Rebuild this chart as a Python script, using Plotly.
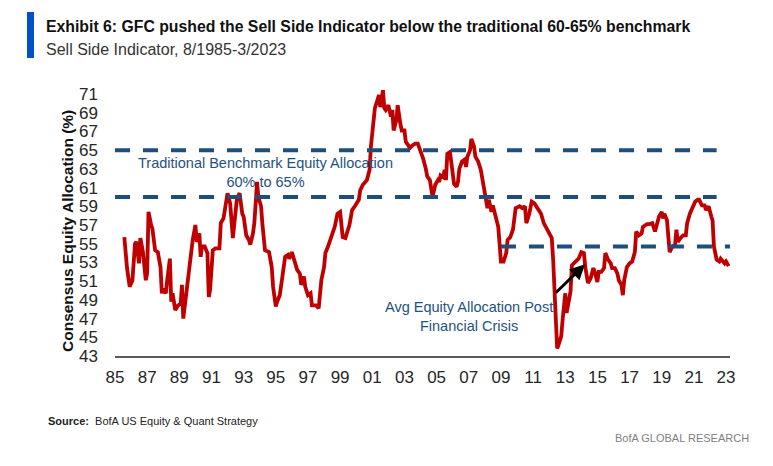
import plotly.graph_objects as go

# Sell Side Indicator, monthly readings (8/1985 - 3/2023)
dates = [
    "1985-08", "1985-10", "1985-12", "1986-02", "1986-04", "1986-05", "1986-07", "1986-08", "1986-10", "1986-12",
    "1987-01", "1987-02", "1987-04", "1987-05", "1987-07", "1987-09", "1987-11", "1987-12", "1988-01", "1988-03",
    "1988-04", "1988-06", "1988-07", "1988-08", "1988-10", "1988-12", "1989-02", "1989-03", "1989-04", "1989-06",
    "1989-08", "1989-11", "1990-01", "1990-02", "1990-04", "1990-05", "1990-06", "1990-08", "1990-10", "1990-11",
    "1990-12", "1991-02", "1991-04", "1991-07", "1991-08", "1991-10", "1992-01", "1992-03", "1992-05", "1992-07",
    "1992-08", "1992-10", "1992-12", "1993-01", "1993-03", "1993-05", "1993-06", "1993-08", "1993-09", "1993-10",
    "1993-11", "1993-12", "1994-02", "1994-03", "1994-05", "1994-08", "1994-10", "1994-11", "1995-01", "1995-02",
    "1995-04", "1995-06", "1995-08", "1995-10", "1995-11", "1996-01", "1996-03", "1996-05", "1996-07", "1996-08",
    "1996-10", "1996-11", "1997-01", "1997-03", "1997-04", "1997-07", "1997-09", "1997-11", "1998-01", "1998-02",
    "1998-04", "1998-06", "1998-07", "1998-09", "1998-11", "1999-01", "1999-03", "1999-05", "1999-08", "1999-10",
    "1999-12", "2000-03", "2000-04", "2000-06", "2000-09", "2000-11", "2000-12", "2001-02", "2001-03", "2001-05",
    "2001-06", "2001-07", "2001-09", "2001-10", "2001-11", "2002-01", "2002-03", "2002-04", "2002-05", "2002-07",
    "2002-08", "2002-10", "2002-11", "2003-01", "2003-02", "2003-04", "2003-05", "2003-07", "2003-09", "2003-11",
    "2004-01", "2004-03", "2004-05", "2004-06", "2004-08", "2004-09", "2004-10", "2004-12", "2005-02", "2005-03",
    "2005-04", "2005-06", "2005-07", "2005-08", "2005-09", "2005-11", "2005-12", "2006-02", "2006-04", "2006-05",
    "2006-06", "2006-08", "2006-10", "2006-11", "2006-12", "2007-02", "2007-03", "2007-05", "2007-06", "2007-08",
    "2007-10", "2007-12", "2008-02", "2008-03", "2008-04", "2008-06", "2008-07", "2008-09", "2008-11", "2008-12",
    "2009-01", "2009-03", "2009-05", "2009-06", "2009-08", "2009-10", "2009-12", "2010-03", "2010-05", "2010-07",
    "2010-08", "2010-10", "2010-12", "2011-02", "2011-04", "2011-05", "2011-07", "2011-09", "2011-11", "2012-01",
    "2012-03", "2012-04", "2012-05", "2012-06", "2012-07", "2012-08", "2012-10", "2012-11", "2012-12", "2013-01",
    "2013-02", "2013-04", "2013-05", "2013-06", "2013-09", "2013-11", "2014-01", "2014-03", "2014-04", "2014-06",
    "2014-08", "2014-10", "2014-11", "2015-01", "2015-02", "2015-04", "2015-06", "2015-07", "2015-09", "2015-11",
    "2015-12", "2016-02", "2016-04", "2016-05", "2016-07", "2016-08", "2016-09", "2016-11", "2017-01", "2017-03",
    "2017-05", "2017-06", "2017-08", "2017-10", "2017-11", "2018-02", "2018-04", "2018-06", "2018-08", "2018-10",
    "2018-11", "2019-01", "2019-02", "2019-03", "2019-05", "2019-06", "2019-07", "2019-09", "2019-11", "2019-12",
    "2020-01", "2020-03", "2020-05", "2020-07", "2020-08", "2020-10", "2020-12", "2021-02", "2021-04", "2021-05",
    "2021-07", "2021-09", "2021-10", "2021-12", "2022-02", "2022-03", "2022-04", "2022-06", "2022-08", "2022-09",
    "2022-12", "2023-01", "2023-03",
]
allocation = [
    55.7, 52.4, 50.4, 51.1, 55.0, 55.2, 52.9, 55.6, 54.0, 51.1,
    51.8, 58.4, 57.0, 56.6, 54.3, 54.1, 52.5, 49.7, 50.2, 49.7,
    51.1, 53.4, 48.8, 49.7, 47.9, 48.4, 48.6, 50.6, 47.0, 49.3,
    52.2, 55.4, 57.0, 55.2, 56.1, 53.6, 54.7, 54.7, 54.0, 49.3,
    50.1, 54.3, 54.5, 54.5, 57.2, 57.7, 60.4, 59.3, 55.6, 59.0,
    59.8, 60.4, 58.2, 57.9, 55.9, 55.4, 54.9, 56.1, 57.2, 59.3,
    61.6, 60.0, 59.0, 57.2, 54.3, 54.1, 52.5, 50.4, 48.3, 48.8,
    49.5, 51.5, 53.6, 53.8, 53.4, 54.1, 53.3, 52.2, 51.8, 50.6,
    51.5, 50.4, 49.5, 49.7, 48.4, 48.4, 48.1, 51.1, 52.5, 54.0,
    54.7, 55.6, 55.9, 56.8, 58.2, 58.4, 55.7, 55.6, 57.0, 58.6,
    59.0, 59.7, 60.7, 61.3, 61.8, 62.9, 65.4, 67.8, 69.5, 70.4,
    70.9, 69.6, 71.4, 69.5, 69.3, 69.8, 68.6, 69.3, 67.1, 68.2,
    69.8, 67.8, 67.1, 67.1, 65.9, 65.5, 65.2, 65.5, 65.7, 65.7,
    65.0, 64.1, 63.0, 62.2, 61.8, 60.7, 60.0, 61.3, 61.8, 61.6,
    62.3, 62.1, 62.9, 61.8, 64.6, 64.8, 63.6, 61.4, 61.1, 61.6,
    63.0, 63.8, 64.0, 63.2, 64.3, 65.0, 66.2, 65.4, 64.3, 63.8,
    62.9, 61.4, 60.0, 58.8, 59.7, 58.4, 59.1, 57.9, 56.8, 55.0,
    53.1, 53.1, 54.0, 55.4, 55.7, 56.5, 58.8, 59.0, 58.8, 59.0,
    57.2, 58.1, 59.5, 59.3, 58.8, 58.6, 58.2, 57.2, 56.6, 56.1,
    55.6, 53.3, 50.4, 46.8, 43.8, 44.2, 45.1, 46.8, 49.0, 49.7,
    47.6, 49.5, 49.9, 52.7, 53.2, 53.4, 54.1, 54.0, 52.5, 50.8,
    51.3, 52.4, 52.0, 50.9, 52.0, 52.0, 52.4, 54.0, 53.3, 52.9,
    52.4, 52.4, 51.8, 51.1, 50.6, 49.5, 51.1, 52.5, 52.9, 53.1,
    54.1, 56.3, 55.9, 56.1, 56.8, 57.1, 57.1, 57.2, 56.3, 57.3,
    57.9, 58.4, 57.7, 58.2, 57.5, 55.7, 54.1, 54.7, 54.9, 56.5,
    55.2, 55.6, 55.9, 55.9, 57.2, 58.2, 58.8, 59.5, 59.7, 59.7,
    59.1, 59.1, 58.6, 59.0, 57.9, 57.5, 54.7, 53.3, 53.1, 53.4,
    52.9, 53.1, 52.6,
]

# benchmark band (60-65%) and post-GFC average
bench_levels = [65, 60]
bench_span = ["1985-01-01", "2022-06-01"]
post_gfc_avg = 54.7
post_gfc_span = ["2009-01-01", "2023-04-01"]

tick_years = list(range(1985, 2024, 2))
tick_vals = [f"{y}-01-01" for y in tick_years]
tick_text = [f"{y % 100:02d}" for y in tick_years]
y_ticks = list(range(43, 72, 2))

FONT = "Liberation Sans, Arial, sans-serif"
RED = "#C00000"
NAVY = "#1F4E79"
LABEL_BLUE = "#24527F"

# page is drawn with an 8px body margin, so shift everything back by that
OFF = 8
W, H = 773, 466
L, R, T, B = 115 - OFF, 43 + OFF, 88 - OFF, 110 + OFF


def px_x(x):
    return (x - OFF - L) / (W - L - R)


def px_y(y):
    return (H - B - (y - OFF)) / (H - T - B)


fig = go.Figure()

fig.add_trace(go.Scatter(x=dates, y=allocation, mode="lines",
                         line=dict(color=RED, width=3.8),
                         showlegend=False, hoverinfo="skip"))

for lvl in bench_levels:
    fig.add_trace(go.Scatter(x=bench_span, y=[lvl, lvl], mode="lines",
                             line=dict(color=NAVY, width=4, dash="15px,13px"),
                             showlegend=False, hoverinfo="skip"))

fig.add_trace(go.Scatter(x=post_gfc_span, y=[post_gfc_avg, post_gfc_avg], mode="lines",
                         line=dict(color=NAVY, width=4, dash="15px,13px"),
                         showlegend=False, hoverinfo="skip"))

fig.update_layout(
    width=W, height=H, autosize=False,
    margin=dict(l=L, r=R, t=T, b=B),
    paper_bgcolor="white", plot_bgcolor="white",
    font=dict(family=FONT, color="#262626"),
    showlegend=False,
)

fig.update_xaxes(type="date", range=["1985-01-01", "2023-04-01"],
                 tickvals=tick_vals, ticktext=tick_text,
                 tickfont=dict(size=17, color="#262626"),
                 showgrid=False, zeroline=False, ticks="",
                 showline=True, linecolor="#595959", linewidth=2,
                 ticklabelstandoff=5)

fig.update_yaxes(range=[43, 71.64], tickvals=y_ticks,
                 tickfont=dict(size=17, color="#262626"),
                 showgrid=False, zeroline=False, showline=False, ticks="",
                 ticklabelstandoff=16)

# blue bar next to the title
fig.add_shape(type="rect", xref="paper", yref="paper",
              x0=px_x(27), x1=px_x(34), y0=px_y(12), y1=px_y(58),
              fillcolor="#0052CC", line=dict(width=0), layer="above")

fig.add_annotation(xref="paper", yref="paper", x=px_x(44), y=px_y(26),
                   xanchor="left", yanchor="middle", showarrow=False,
                   text="<b>Exhibit 6: GFC pushed the Sell Side Indicator below the traditional 60-65% benchmark</b>",
                   font=dict(family=FONT, size=15.8, color="#111111"))
fig.add_annotation(xref="paper", yref="paper", x=px_x(44), y=px_y(49),
                   xanchor="left", yanchor="middle", showarrow=False,
                   text="Sell Side Indicator, 8/1985-3/2023",
                   font=dict(family=FONT, size=16, color="#333333"))

fig.add_annotation(xref="paper", yref="paper", x=px_x(68), y=px_y(231),
                   xanchor="center", yanchor="middle", showarrow=False, textangle=-90,
                   text="<b>Consensus Equity Allocation (%)</b>",
                   font=dict(family=FONT, size=15.5, color="#111111"))

fig.add_annotation(x="1994-05-01", y=62.6, xanchor="center", yanchor="middle",
                   showarrow=False,
                   text="Traditional Benchmark Equity Allocation<br>60% to 65%",
                   font=dict(family=FONT, size=14.5, color=LABEL_BLUE))
fig.add_annotation(x="2007-01-01", y=47.2, xanchor="center", yanchor="middle",
                   showarrow=False,
                   text="Avg Equity Allocation Post<br>Financial Crisis",
                   font=dict(family=FONT, size=14.5, color=LABEL_BLUE))

fig.add_annotation(x="2014-03-25", y=52.8, ax="2012-04-27", ay=49.6,
                   xref="x", yref="y", axref="x", ayref="y",
                   showarrow=True, arrowhead=2, arrowsize=1, arrowwidth=3,
                   arrowcolor="black", text="")

fig.add_annotation(xref="paper", yref="paper", x=px_x(46), y=px_y(421),
                   xanchor="left", yanchor="middle", showarrow=False,
                   text="<b>Source:</b>  BofA US Equity &amp; Quant Strategy",
                   font=dict(family=FONT, size=11, color="#222222"))
fig.add_annotation(xref="paper", yref="paper", x=px_x(751), y=px_y(438),
                   xanchor="right", yanchor="middle", showarrow=False,
                   text="BofA GLOBAL RESEARCH",
                   font=dict(family=FONT, size=11, color="#808080"))

fig.write_html("out.html")
